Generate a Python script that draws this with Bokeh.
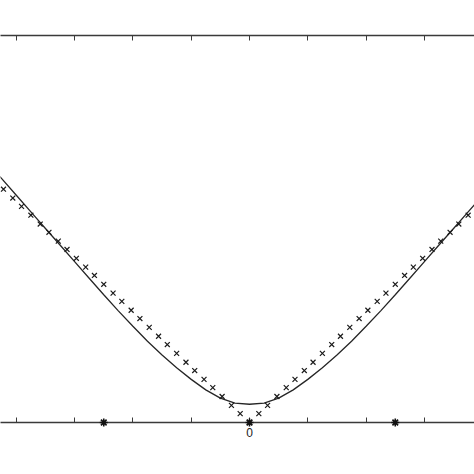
from bokeh.plotting import figure
from bokeh.models import Range1d, LinearAxis, FixedTicker
from bokeh.embed import file_html
from bokeh.resources import INLINE

# data crosses
cross_x = [-4.22, -4.06, -3.91, -3.75, -3.59, -3.44, -3.28, -3.13, -2.97, -2.81,
           -2.66, -2.5, -2.34, -2.19, -2.03, -1.88, -1.72, -1.56, -1.41, -1.25,
           -1.09, -0.94, -0.78, -0.63, -0.47, -0.31, -0.16, 0.0, 0.16, 0.31,
           0.47, 0.63, 0.78, 0.94, 1.09, 1.25, 1.41, 1.56, 1.72, 1.88,
           2.03, 2.19, 2.34, 2.5, 2.66, 2.81, 2.97, 3.13, 3.28, 3.44, 3.59, 3.75]
cross_y = [4.22, 4.06, 3.91, 3.75, 3.59, 3.44, 3.28, 3.13, 2.97, 2.81,
           2.66, 2.5, 2.34, 2.19, 2.03, 1.88, 1.72, 1.56, 1.41, 1.25,
           1.09, 0.94, 0.78, 0.63, 0.47, 0.31, 0.16, 0.0, 0.16, 0.31,
           0.47, 0.63, 0.78, 0.94, 1.09, 1.25, 1.41, 1.56, 1.72, 1.88,
           2.03, 2.19, 2.34, 2.5, 2.66, 2.81, 2.97, 3.13, 3.28, 3.44, 3.59, 3.75]

# fitted curve
curve_x = [-4.35, -4.25, -4.0, -3.75, -3.5, -3.25, -3.0, -2.75, -2.5, -2.25,
           -2.0, -1.75, -1.5, -1.25, -1.0, -0.75, -0.5, -0.25, 0.0,
           0.25, 0.5, 0.75, 1.0, 1.25, 1.5, 1.75, 2.0, 2.25, 2.5,
           2.75, 3.0, 3.25, 3.5, 3.75, 4.0]
curve_y = [4.53, 4.41, 4.11, 3.81, 3.51, 3.21, 2.91, 2.61, 2.31, 2.02,
           1.74, 1.47, 1.22, 0.99, 0.78, 0.59, 0.44, 0.35, 0.33,
           0.35, 0.44, 0.59, 0.78, 0.99, 1.22, 1.47, 1.74, 2.02, 2.31,
           2.61, 2.91, 3.21, 3.51, 3.81, 4.11]

# star markers on the axis
star_x = [-2.5, 0.0, 2.5]
star_y = [0.0, 0.0, 0.0]

tick_values = [-4, -3, -2, -1, 0, 1, 2, 3, 4]
bottom_labels = {-4: "", -3: "", -2: "", -1: "", 0: "0", 1: "", 2: "", 3: "", 4: ""}
top_labels = {-4: "", -3: "", -2: "", -1: "", 0: "", 1: "", 2: "", 3: "", 4: ""}

AX = "#3a3a3a"

p = figure(width=474, height=474, output_backend="svg", toolbar_location=None,
           x_range=Range1d(-4.271, 3.859), y_range=Range1d(0, 7),
           x_axis_location=None, y_axis_location=None,
           min_border_left=0, min_border_right=0, min_border_top=35,
           min_border_bottom=52)
p.outline_line_color = None
p.xgrid.visible = False
p.ygrid.visible = False
p.background_fill_color = "white"
p.border_fill_color = "white"

for loc in ("below", "above"):
    ax = LinearAxis(ticker=FixedTicker(ticks=tick_values))
    ax.axis_line_color = AX
    ax.axis_line_width = 1.4
    ax.major_tick_line_color = AX
    ax.major_tick_line_width = 1
    ax.major_tick_in = 5
    ax.major_tick_out = 0
    ax.minor_tick_line_color = None
    ax.major_label_text_font = "Liberation Sans"
    ax.major_label_text_font_size = "12px"
    ax.major_label_text_color = "#222222"
    if loc == "below":
        ax.major_label_overrides = bottom_labels
        ax.major_label_standoff = 5
    else:
        ax.major_label_overrides = top_labels
        ax.major_label_standoff = 0
    p.add_layout(ax, loc)

p.line(curve_x, curve_y, line_color="#262626", line_width=1.3)
p.scatter(cross_x, cross_y, marker="x", size=7, line_color="#1a1a1a",
          line_width=1.2, level="overlay")
p.scatter(star_x, star_y, marker="asterisk", size=8, line_color="#111111",
          line_width=1.6, level="overlay")

open("out.html", "w").write(file_html(p, INLINE))
